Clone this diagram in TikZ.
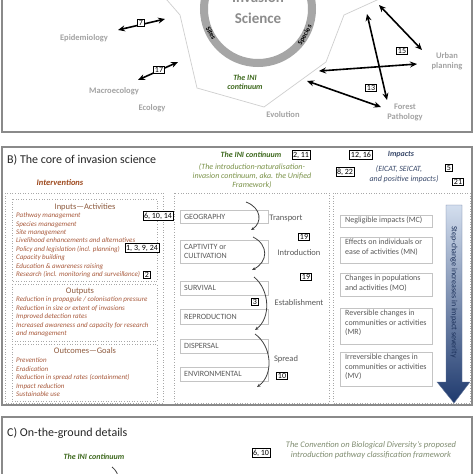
\documentclass[tikz,border=0pt]{standalone}
\usepackage{fontspec}
\setmainfont{Carlito}
\usetikzlibrary{arrows.meta}
\definecolor{framegray}{HTML}{8A8A8A}
\definecolor{ringgray}{HTML}{A6A6A6}
\definecolor{titlegray}{HTML}{8C8C8C}
\definecolor{discgray}{HTML}{A3A3A3}
\definecolor{polygray}{HTML}{CFCFCF}
\definecolor{inigreen}{HTML}{3F6A1F}
\definecolor{olive}{HTML}{7A9248}
\definecolor{cbdgray}{HTML}{7F8C70}
\definecolor{intbrown}{HTML}{9E4A1E}
\definecolor{itembrown}{HTML}{A8593B}
\definecolor{headbrown}{HTML}{8E5B3F}
\definecolor{stagegray}{HTML}{595959}
\definecolor{boxgray}{HTML}{C4C4C4}
\definecolor{dotgray}{HTML}{A8A8A8}
\definecolor{impblue}{HTML}{3A4A6B}
\definecolor{arrowtop}{HTML}{D3DEEE}
\definecolor{arrowbot}{HTML}{1F3A6E}
\definecolor{textdark}{HTML}{262626}
\tikzset{
  numbox/.style={draw=black, line width=0.8pt, fill=white, inner sep=1.1pt,
    font=\fontsize{8}{9}\selectfont, text=black},
  disc/.style={font=\fontsize{8.5}{10}\selectfont\bfseries, text=discgray, align=center},
  biarrow/.style={{Stealth[length=7pt,width=6pt]}-{Stealth[length=7pt,width=6pt]}, line width=1.6pt},
  panelframe/.style={draw=framegray, line width=1.4pt},
  dotbox/.style={draw=dotgray, dotted, line width=0.6pt},
  item/.style={font=\fontsize{7}{8}\selectfont\itshape, text=itembrown, inner sep=0pt,
    text height=4.9pt, text depth=1.5pt, anchor=west},
  headb/.style={font=\fontsize{8.5}{10}\selectfont, text=headbrown, inner sep=0pt},
  stagebox/.style={draw=boxgray, line width=0.8pt, fill=white},
  stagetext/.style={font=\fontsize{8}{9}\selectfont, text=stagegray, inner sep=0pt, anchor=west},
  stagelabel/.style={font=\fontsize{8.5}{10}\selectfont, text=stagegray, inner sep=0pt},
  impbox/.style={draw=boxgray, line width=0.8pt, fill=white},
  imptext/.style={font=\fontsize{8}{9.6}\selectfont, text=stagegray, inner sep=0pt, anchor=north west, align=left},
  stagecurve/.style={draw=black!75, line width=0.8pt, -{Stealth[length=3.5pt,width=3pt]}},
  inihead/.style={font=\fontsize{8}{9.5}\selectfont\bfseries\itshape, text=inigreen, align=center, inner sep=0pt},
  paneltitle/.style={font=\fontsize{12}{14}\selectfont, text=textdark, anchor=west, inner sep=0pt}
}
\begin{document}
\begin{tikzpicture}[x=1pt,y=-1pt]
\useasboundingbox (0,0) rectangle (474,474);
\clip (0,0) rectangle (474,474);
\fill[white] (0,0) rectangle (474,474);

% ---------------- Panel A ----------------
\draw[panelframe] (2,-10) rectangle (472,132);
\draw[polygray, line width=0.7pt] (160,-8) -- (180,15) -- (197,88) -- (264,107) -- (326,62) -- (344,15) -- (377,0) -- (390,-6);
\draw[ringgray, line width=8pt] (258,9) circle[radius=54];
\node[font=\fontsize{15}{17}\selectfont\bfseries, text=titlegray] (tinv) at (258,-3) {Invasion};
\node[font=\fontsize{15}{17}\selectfont\bfseries, text=titlegray] (tsci) at (258,18) {Science};
\node[font=\fontsize{7}{8}\selectfont\bfseries, rotate=-62, inner sep=0pt] (tsites) at (211,33) {Sites};
\node[font=\fontsize{7}{8}\selectfont\bfseries, rotate=61, inner sep=0pt] (tspecies) at (305,35) {Species};
\node[inihead] (tini) at (245,82) {The INI\\continuum};

\node[disc] (epi) at (84,38) {Epidemiology};
\node[disc] (macro) at (114,91) {Macroecology};
\node[disc] (eco) at (152,108) {Ecology};
\node[disc] (evo) at (283,115) {Evolution};
\node[disc] (urban) at (447,61) {Urban\\planning};
\node[disc] (forest) at (405,112) {Forest\\Pathology};

\coordinate (a1s) at (118,30); \coordinate (a1e) at (165,19);
\coordinate (a2s) at (138,80); \coordinate (a2e) at (178,62);
\coordinate (a3s) at (379,5);  \coordinate (a3e) at (422,50);
\coordinate (a4s) at (319,71); \coordinate (a4e) at (417,64);
\coordinate (a5s) at (367,14); \coordinate (a5e) at (387,100);
\coordinate (a6s) at (307,81); \coordinate (a6e) at (381,107);
\draw[biarrow] (a1s) -- (a1e);
\draw[biarrow] (a2s) -- (a2e);
\draw[biarrow] (a3s) -- (a3e);
\draw[biarrow] (a4s) -- (a4e);
\draw[biarrow] (a5s) -- (a5e);
\draw[biarrow] (a6s) -- (a6e);
\node[numbox] (n7) at (141,23) {7};
\node[numbox] (n17) at (159,70) {17};
\node[numbox] (n15) at (402,51) {15};
\node[numbox] (n13) at (371,88) {13};

% ---------------- Panel B ----------------
\draw[panelframe] (2,147) rectangle (472,405);
\node[paneltitle] (tB) at (7,160) {B) The core of invasion science};

% Interventions
\node[font=\fontsize{8.5}{10}\selectfont\bfseries\itshape, text=intbrown] (tint) at (60,183) {Interventions};
\draw[dotbox] (5,193) rectangle (163,403);
\draw[dotbox] (12,199) rectangle (157,281);
\draw[dotbox] (12,284) rectangle (157,341);
\draw[dotbox] (12,344) rectangle (157,401);
\node[headb] (hin) at (85,207) {Inputs—Activities};
\foreach \t [count=\i] in {Pathway management, Species management, Site management,
  Livelihood enhancements and alternatives, Policy and legislation (incl. planning),
  Capacity building, Education \& awareness raising, Research (incl. monitoring and surveillance)}
  \node[item, name=inp\i] at (16,{216+(\i-1)*8.4}) {\t};
\node[headb] (hout) at (80,291) {Outputs};
\foreach \t [count=\i] in {Reduction in propagule / colonisation pressure,
  Reduction in size or extent of invasions, Improved detection rates,
  Increased awareness and capacity for research, and management}
  \node[item, name=out\i] at (16,{300+(\i-1)*8.5}) {\t};
\node[headb] (hgoal) at (85,351) {Outcomes—Goals};
\foreach \t [count=\i] in {Prevention, Eradication, Reduction in spread rates (containment),
  Impact reduction, Sustainable use}
  \node[item, name=goal\i] at (16,{361+(\i-1)*8.5}) {\t};
\node[numbox] (n61014) at (158,216) {6, 10, 14};
\node[numbox] (n13924) at (142,248) {1, 3, 9, 24};
\node[numbox] (n2b) at (147,275) {2};

% INI continuum
\node[inihead] (tini2) at (251,155) {The INI continuum};
\node[numbox] (n211) at (301,155) {2, 11};
\node[font=\fontsize{8}{9}\selectfont\itshape, text=olive, align=center, inner sep=0pt] (tinisub) at (252,176)
  {(The introduction-naturalisation-\\invasion continuum, aka. the Unified\\Framework)};
\draw[dotbox] (174,193) rectangle (329,403);
\draw[stagebox] (180,210) rectangle (268,223);
\draw[stagebox] (180,240) rectangle (268,263);
\draw[stagebox] (180,281) rectangle (268,295);
\draw[stagebox] (180,309) rectangle (268,324);
\draw[stagebox] (180,339) rectangle (268,353);
\draw[stagebox] (180,367) rectangle (268,381);
\node[stagetext] (sgeo) at (184,216.5) {GEOGRAPHY};
\node[stagetext, align=left] (scap) at (184,251.5) {CAPTIVITY or\\CULTIVATION};
\node[stagetext] (ssur) at (184,288) {SURVIVAL};
\node[stagetext] (srep) at (184,316.5) {REPRODUCTION};
\node[stagetext] (sdis) at (184,346) {DISPERSAL};
\node[stagetext] (senv) at (184,374) {ENVIRONMENTAL};
\coordinate (c1a) at (246,202); \coordinate (c1b) at (251,230);
\coordinate (c2a) at (253,237); \coordinate (c2b) at (252,270);
\coordinate (c3a) at (254,277); \coordinate (c3b) at (255,330);
\coordinate (c4a) at (255,334); \coordinate (c4b) at (257,387);
\draw[stagecurve] (c1a) .. controls (262,208) and (262,223) .. (c1b);
\draw[stagecurve] (c2a) .. controls (269,245) and (268,262) .. (c2b);
\draw[stagecurve] (c3a) .. controls (270,290) and (271,318) .. (c3b);
\draw[stagecurve] (c4a) .. controls (272,346) and (274,375) .. (c4b);
\node[stagelabel] (ltra) at (286,218) {Transport};
\node[stagelabel] (lint) at (299,253) {Introduction};
\node[stagelabel] (lest) at (299,303) {Establishment};
\node[stagelabel] (lspr) at (286,359) {Spread};
\node[numbox] (n19a) at (304,237) {19};
\node[numbox] (n19b) at (306,277) {19};
\node[numbox] (n3) at (255,302) {3};
\node[numbox] (n10) at (282,376) {10};

% Impacts
\node[font=\fontsize{8}{9.5}\selectfont\bfseries\itshape, text=impblue, inner sep=0pt] (timp) at (401,155) {Impacts};
\node[font=\fontsize{8}{9.5}\selectfont\itshape, text=impblue, inner sep=0pt] (timp1) at (399,169) {(EICAT, SEICAT,};
\node[font=\fontsize{8}{9.5}\selectfont\itshape, text=impblue, inner sep=0pt] (timp2) at (404,179) {and positive impacts)};
\node[numbox] (n1216) at (361,155) {12, 16};
\node[numbox] (n822) at (345,172) {8, 22};
\node[numbox] (n5) at (449,168) {5};
\node[numbox] (n21) at (458,182) {21};
\draw[dotbox] (333,193) rectangle (470,403);
\draw[impbox] (340,215) rectangle (432,227);
\draw[impbox] (340,237) rectangle (432,263);
\draw[impbox] (340,273) rectangle (432,296);
\draw[impbox] (340,308) rectangle (432,344);
\draw[impbox] (340,352) rectangle (432,386);
\node[imptext] (i1) at (345,216.5) {Negligible impacts (MC)};
\node[imptext] (i2) at (345,239) {Effects on individuals or\\ease of activities (MN)};
\node[imptext] (i3) at (345,275) {Changes in populations\\and activities (MO)};
\node[imptext] (i4) at (345,310) {Reversible changes in\\communities or activities\\(MR)};
\node[imptext] (i5) at (345,354) {Irreversible changes in\\communities or activities\\(MV)};
\shade[top color=arrowtop, bottom color=arrowbot, draw=arrowbot!70, line width=0.4pt]
  (446,205) -- (462,205) -- (462,382) -- (470,382) -- (454,403) -- (437,382) -- (446,382) -- cycle;
\node[font=\fontsize{8}{9}\selectfont, text=arrowbot!80!black, rotate=-90, inner sep=0pt] (tstep) at (454,292)
  {Step-change increases in impact severity};

% ---------------- Panel C ----------------
\draw[panelframe] (2,417) rectangle (472,490);
\node[paneltitle] (tC) at (7,433) {C) On-the-ground details};
\node[inihead] (tini3) at (94,457) {The INI continuum};
\coordinate (c5a) at (112,467); \coordinate (c5b) at (119,480);
\draw[draw=black!75, line width=0.8pt] (c5a) .. controls (116,470) and (118,474) .. (c5b);
\node[numbox] (n610c) at (261,453) {6, 10};
\node[font=\fontsize{8.5}{10}\selectfont\itshape, text=cbdgray, align=center, inner sep=0pt] (tcbd) at (371,450)
  {The Convention on Biological Diversity’s proposed\\introduction pathway classification framework};
\end{tikzpicture}
\end{document}
